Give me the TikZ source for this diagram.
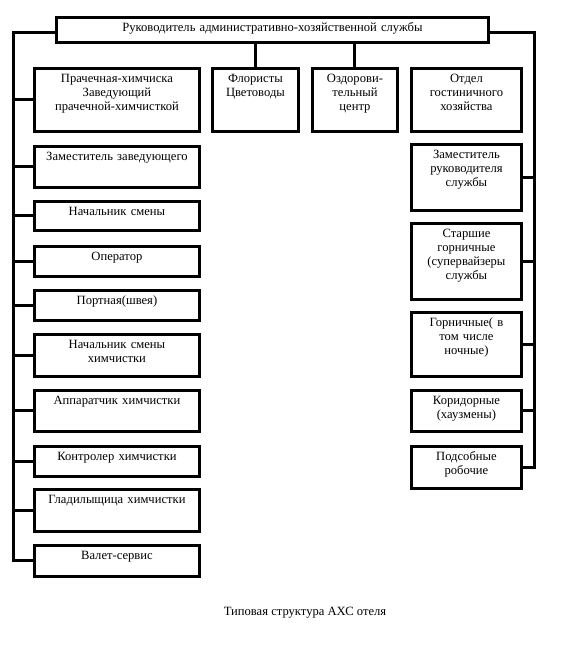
\documentclass[tikz,border=0pt]{standalone}
\usepackage{fontspec}
\setmainfont{Liberation Serif}
\begin{document}
\begin{tikzpicture}[x=1pt,y=-1pt]
		\tikzset{blok/.style 2 args={draw, line width=2.9pt, inner sep=0pt, anchor=north west, align=center,
		  font=\fontsize{12.6}{14}\selectfont, text width=#1, text height=14pt, text depth=#2}}
		\tikzset{svyaz/.style={line width=3pt}}
		\useasboundingbox (0,0) rectangle (567,667);

		\node[blok={432pt}{11pt}] (ruk) at (55,16) {Руководитель административно-хозяйственной службы};

		\node[blok={165pt}{49pt}] (prach) at (33,67) {Прачечная-химчиска\\Заведующий\\прачечной-химчисткой};
		\node[blok={86pt}{49pt}] (flor) at (211,67) {Флористы\\Цветоводы};
		\node[blok={85pt}{49pt}] (ozd) at (311,67) {Оздорови-\\тельный\\центр};
		\node[blok={110pt}{49pt}] (otdel) at (410,67) {Отдел\\гостиничного\\хозяйства};

		\node[blok={165pt}{27pt}] (zamzav) at (33,145) {Заместитель заведующего};
		\node[blok={165pt}{15pt}] (nach) at (33,200) {Начальник смены};
		\node[blok={165pt}{16pt}] (oper) at (33,245) {Оператор};
		\node[blok={165pt}{16pt}] (port) at (33,289) {Портная(швея)};
		\node[blok={165pt}{28pt}] (nachhim) at (33,333) {Начальник смены\\химчистки};
		\node[blok={165pt}{27pt}] (appar) at (33,389) {Аппаратчик химчистки};
		\node[blok={165pt}{16pt}] (kontr) at (33,445) {Контролер химчистки};
		\node[blok={165pt}{28pt}] (glad) at (33,488) {Гладилыщица химчистки};
		\node[blok={165pt}{17pt}] (valet) at (33,544) {Валет-сервис};

		\node[blok={110pt}{52pt}] (zamruk) at (410,143) {Заместитель\\руководителя\\службы};
		\node[blok={110pt}{62pt}] (starsh) at (410,222) {Старшие\\горничные\\(супервайзеры\\службы};
		\node[blok={110pt}{50pt}] (gorn) at (410,311) {Горничные( в\\том числе\\ночные)};
		\node[blok={110pt}{27pt}] (korid) at (410,389) {Коридорные\\(хаузмены)};
		\node[blok={110pt}{28pt}] (podsob) at (410,445) {Подсобные\\робочие};

		\coordinate (lshina) at (13.5,0);
		\coordinate (pshina) at (534,0);

    \draw[svyaz] ([yshift=-3pt]ruk.west) -| (lshina |- valet.west) -- (valet.west);
    \foreach \b in {prach,zamzav,nach,oper,port,nachhim,appar,kontr,glad}
      \draw[svyaz] (lshina |- \b.west) -- (\b.west);

    \draw[svyaz] ([yshift=-3pt]ruk.east) -| (pshina |- podsob.east) -- (podsob.east);
    \foreach \b in {zamruk,starsh,gorn,korid}
      \draw[svyaz] (pshina |- \b.east) -- (\b.east);

    \draw[svyaz] (ruk.south -| flor.north) -- (flor.north);
    \draw[svyaz] (ruk.south -| ozd.north) -- (ozd.north);

    \node[font=\fontsize{12.6}{14}\selectfont] (podpis) at (305,613) {Типовая структура АХС отеля};

		\end{tikzpicture}
\end{document}
